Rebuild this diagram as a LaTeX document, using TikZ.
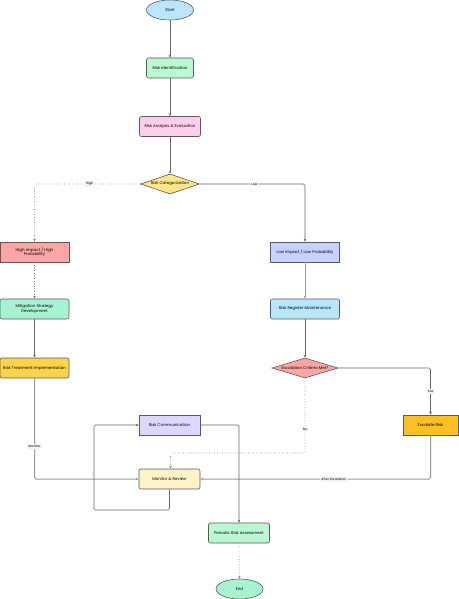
\documentclass[tikz,border=0pt]{standalone}
\usepackage{fontspec}
\setmainfont{Poppins}
\usetikzlibrary{shapes.geometric,arrows.meta}
\definecolor{cStart}{HTML}{BAE6FD}
\definecolor{cIdent}{HTML}{BBF7D0}
\definecolor{cAnaly}{HTML}{FBCFE8}
\definecolor{cCateg}{HTML}{FDE68A}
\definecolor{cHigh}{HTML}{FCA5A5}
\definecolor{cLow}{HTML}{C7D2FE}
\definecolor{cMitig}{HTML}{A7F3D0}
\definecolor{cTreat}{HTML}{FCD34D}
\definecolor{cEscal}{HTML}{FBBF24}
\definecolor{cComm}{HTML}{DDD6FE}
\definecolor{cMonit}{HTML}{FEF3C7}
\definecolor{cEdge}{HTML}{666666}
\definecolor{cLabel}{HTML}{F1F2F4}
\begin{document}
\begin{tikzpicture}[x=1pt,y=-1pt]

    \tikzset{
      box/.style={
        draw=black!65,
        line width=0.6pt,
        font=\fontsize{4}{4.6}\selectfont,
        align=center,
        inner sep=1pt,
        minimum height=20pt,
      },
      roundbox/.style={
        box,
        rounded corners=2pt,
      },
      oval/.style={
        box,
        ellipse,
        minimum width=47pt,
      },
      decision/.style={
        box,
        diamond,
        aspect=3,
        inner sep=0pt,
      },
      flow/.style={
        draw=cEdge,
        line width=0.6pt,
        -{Stealth[length=3pt,width=2.6pt]},
        rounded corners=1.5pt,
      },
      bigflow/.style={
        flow,
        draw=black!40,
        line width=1pt,
      },
      dotflow/.style={
        flow,
        draw=black!50,
        dotted,
      },
      tag/.style={
        fill=cLabel,
        font=\fontsize{3.2}{3.6}\selectfont,
        inner sep=1.3pt,
      },
    }
    \useasboundingbox (0,0) rectangle (458,599);
    % nodes
    \node[oval, fill=cStart] (start) at (170,10) {Start};
    \node[roundbox, fill=cIdent, minimum width=47pt] (ident) at (170,68) {Risk Identification};
    \node[roundbox, fill=cAnaly, minimum width=61pt] (analysis) at (170,126.5) {Risk Analysis \& Evaluation};
    \node[decision, fill=cCateg, minimum width=59pt, minimum height=20pt] (categ) at (170,184) {Risk Categorization};
    \node[box, fill=cHigh, minimum width=69pt] (high) at (34.5,252) {High Impact / High\\Probability};
    \node[box, fill=cLow, minimum width=69pt] (low) at (305,252) {Low Impact / Low Probability};
    \node[roundbox, fill=cMitig, minimum width=69pt] (mitig) at (34.5,309) {Mitigation Strategy\\Development};
    \node[roundbox, fill=cStart, minimum width=69pt] (register) at (305,309) {Risk Register Maintenance};
    \node[roundbox, fill=cTreat, minimum width=69pt] (treat) at (34.5,368) {Risk Treatment Implementation};
    \node[decision, fill=cHigh, minimum width=66pt, minimum height=20pt] (crit) at (305,368) {Escalation Criteria Met?};
    \node[box, fill=cEscal, minimum width=55pt] (escal) at (430.5,425) {Escalate Risk};
    \node[box, fill=cComm, minimum width=61pt] (comm) at (169.5,425) {Risk Communication};
    \node[roundbox, fill=cMonit, minimum width=61pt] (monit) at (169.5,479) {Monitor \& Review};
    \node[roundbox, fill=cIdent, minimum width=61pt] (period) at (239,533) {Periodic Risk Assessment};
    \node[oval, fill=cMitig] (end) at (239.5,589) {End};

    % connectors
    \draw[flow] (start) -- (ident);
    \draw[flow] (ident) -- (analysis);
    \draw[flow] (analysis) -- (categ);
    \draw[dotflow] (categ.west) -| node[tag, pos=0.24] {High} (high.north);
    \draw[flow] (categ.east) -| node[tag, pos=0.26] {Low} (low.north);
    \draw[dotflow] (high) -- (mitig);
    \draw[bigflow] (low) -- (register);
    \draw[flow] (mitig) -- (treat);
    \draw[flow] (register) -- (crit);
    \draw[flow] (crit.east) -| node[tag, pos=0.75] {Yes} (escal.north);
    \draw[dotflow] (crit.south) |- node[tag, pos=0.34] {No} (170.5,453) -- (monit.north -| 170.5,453);
    \draw[bigflow] (treat.south) |- node[tag, pos=0.34] {Monitor} (monit.west);
    \draw[bigflow] (escal.south) |- node[tag, pos=0.71] {After Escalation} (monit.east);
    \draw[flow] (monit.south) |- (94,510) |- (comm.west);
    \draw[flow] (comm.east) -| (period.north);
    \draw[dotflow] (period) -- (end);

\end{tikzpicture}
\end{document}
